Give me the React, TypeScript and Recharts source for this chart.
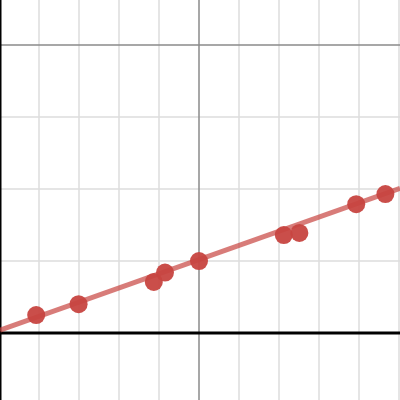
import React from 'react';
import { ComposedChart, Line, Scatter, XAxis, YAxis, ReferenceLine } from 'recharts';

// observed points
const pointX = [-4.07, -3.01, -1.13, -0.85, 0.0, 2.12, 2.51, 3.93, 4.66];
const pointY = [0.25, 0.4, 0.71, 0.84, 1.0, 1.36, 1.39, 1.79, 1.93];

// fitted line end points
const fitX = [-4.975, 5.025];
const fitY = [0.04, 2.01];

// grid
const xGrid = [-4, -3, -2, -1, 1, 2, 3, 4, 5];
const yGrid = [1, 2, 3];
const yMajor = [4];

const points = pointX.map((x, i) => ({ x, y: pointY[i] }));
const fit = fitX.map((x, i) => ({ x, y: fitY[i] }));

const Dot = (props: { cx?: number; cy?: number }) => (
  <circle cx={props.cx} cy={props.cy} r={9} fill="#c74440" fillOpacity={0.95} />
);

const App: React.FC = () => {
  return (
    <div style={{ position: 'fixed', left: 0, top: 0, width: 400, height: 400, background: '#fff' }}>
      <ComposedChart width={400} height={400} margin={{ top: 0, right: 0, bottom: 0, left: 0 }}>
        <XAxis type="number" dataKey="x" domain={[-4.975, 5.025]} allowDataOverflow hide />
        <YAxis type="number" dataKey="y" domain={[-0.93, 4.625]} allowDataOverflow hide />
        {xGrid.map((v) => (
          <ReferenceLine key={`gx${v}`} x={v} stroke="#dddddd" strokeWidth={1.5} />
        ))}
        {yGrid.map((v) => (
          <ReferenceLine key={`gy${v}`} y={v} stroke="#dddddd" strokeWidth={1.5} />
        ))}
        {yMajor.map((v) => (
          <ReferenceLine key={`my${v}`} y={v} stroke="#8a8a8a" strokeWidth={1.5} />
        ))}
        <ReferenceLine x={0} stroke="#8a8a8a" strokeWidth={1.5} />
        <ReferenceLine x={-4.975} stroke="#000" strokeWidth={3} />
        <ReferenceLine y={0} stroke="#000" strokeWidth={3} />
        <Line
          data={fit}
          dataKey="y"
          type="linear"
          stroke="#c74440"
          strokeOpacity={0.7}
          strokeWidth={5}
          dot={false}
          activeDot={false}
          isAnimationActive={false}
        />
        <Scatter data={points} dataKey="y" shape={Dot} isAnimationActive={false} />
      </ComposedChart>
    </div>
  );
};

export default App;
